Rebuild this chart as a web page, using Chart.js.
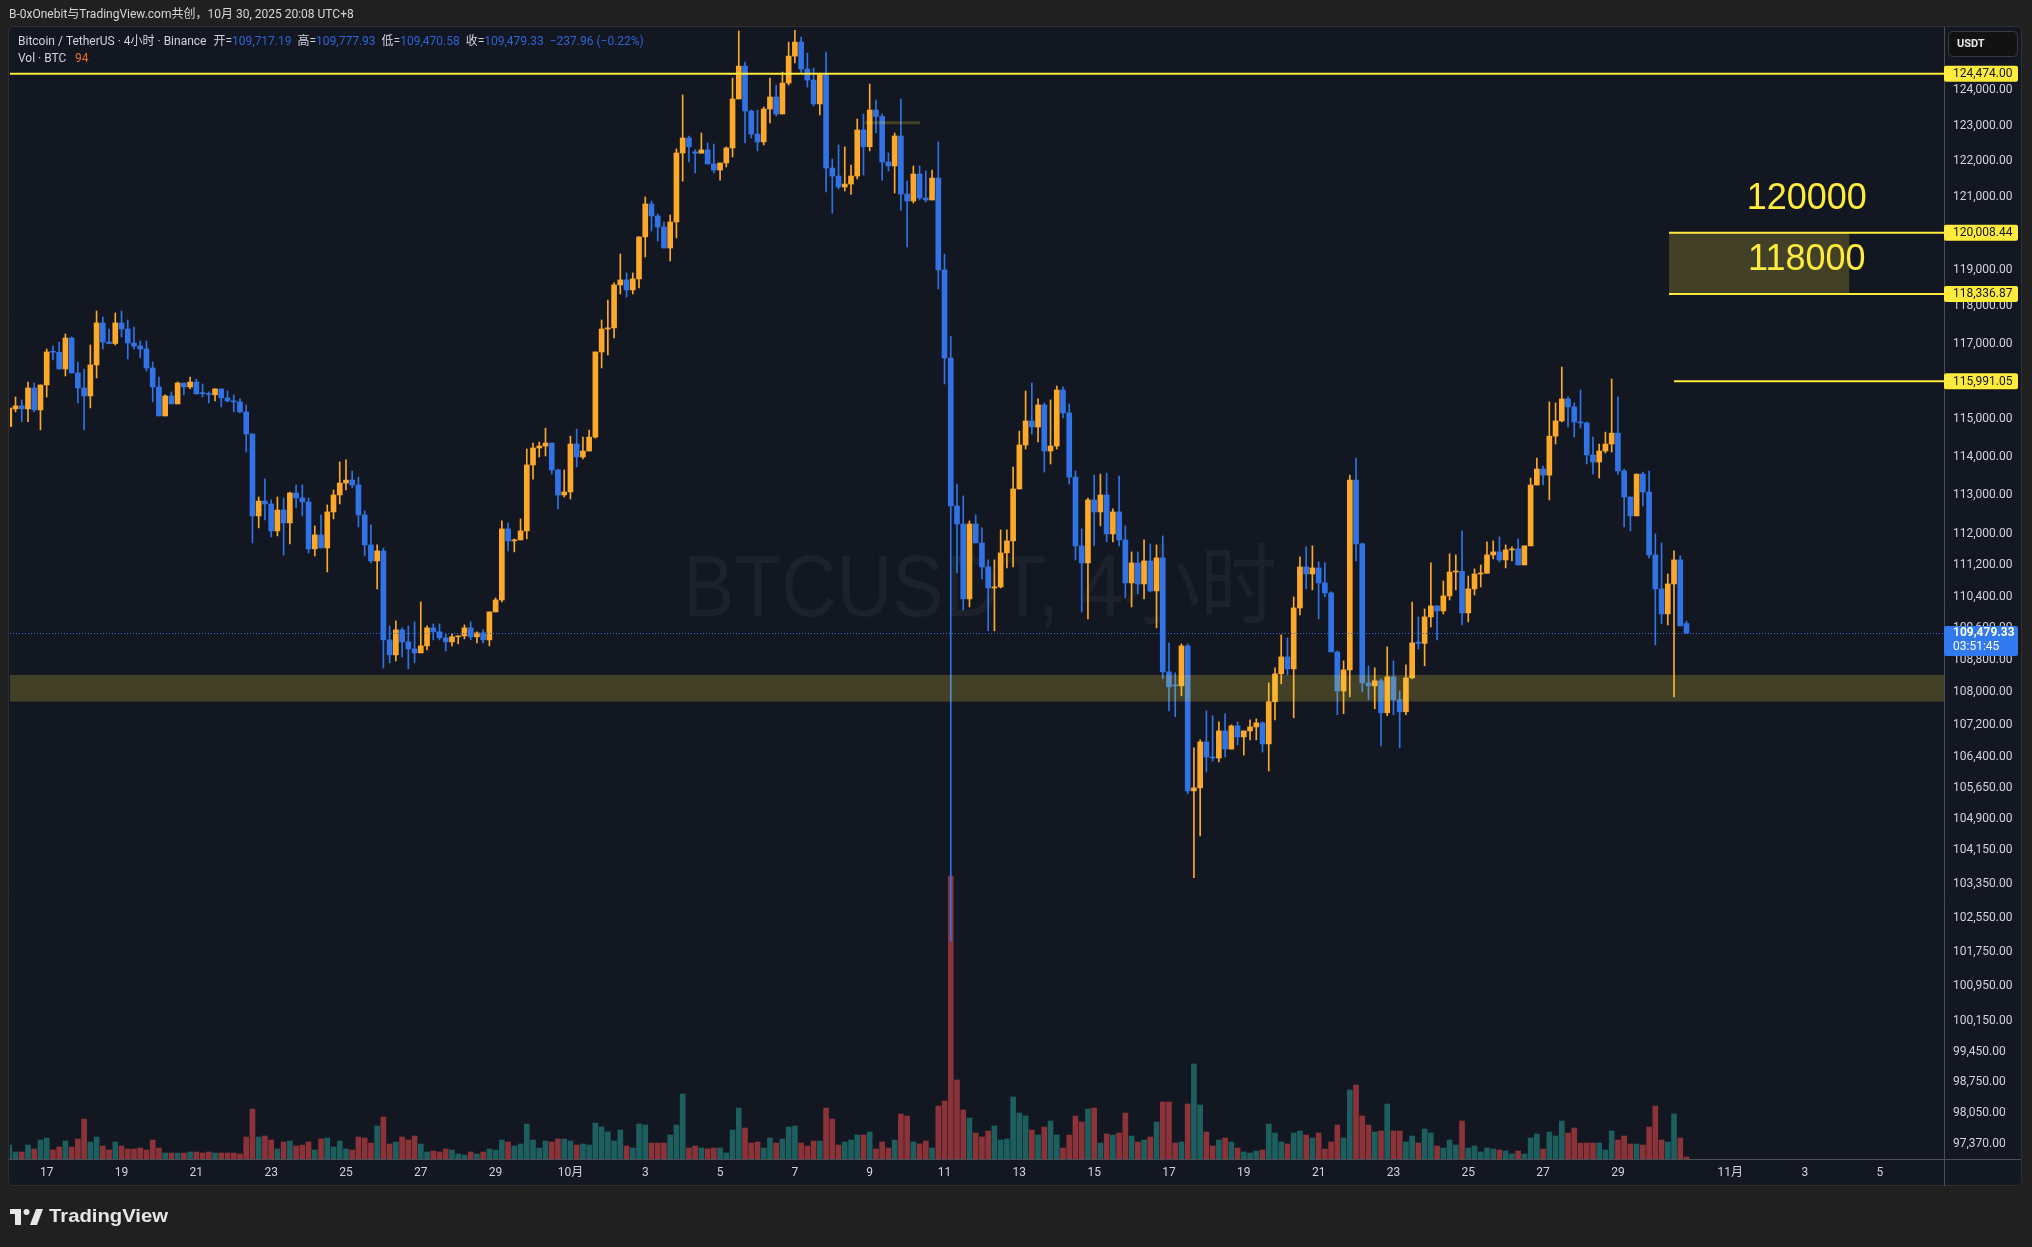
<!DOCTYPE html>
<html lang="zh">
<head>
<meta charset="utf-8">
<title>BTCUSDT 4小时</title>
<script src="https://cdn.jsdelivr.net/npm/chart.js"></script>
<style>
  html, body { margin: 0; padding: 0; background: #202020; overflow: hidden; }
  #myChart { display: block; }
</style>
</head>
<body>
<canvas id="myChart" width="2032" height="1247"></canvas>
<script>
// 4h bars, bar 0 = 9月17日 00:00 (UTC+8); first visible bar is 9月16日 00:00
var firstBar = -6;

var opens = [
  114793,115257,115336,115257,115812,115230,115892,116773,116765,116318,
  117147,116211,115812,115600,116425,117553,117040,117000,117553,117391,
  117013,116933,116853,116345,115839,115071,115600,115389,115944,115839,
  115971,115680,115660,115630,115786,115548,115468,115442,115177,114597,
  112461,112845,112770,112075,112613,112280,113054,112925,112822,111613,
  111972,111638,112564,113002,113312,113389,113262,112487,111715,111305,
  111562,109307,108930,109558,109256,109080,108980,109156,109608,109508,
  109357,109256,109382,109407,109608,109382,109482,109307,110010,110312,
  112126,111818,111844,112075,113784,114227,114279,114358,113653,113002,
  113080,114332,113992,114148,114513,116773,117391,117420,118583,118719,
  118447,118747,119897,120807,120475,120171,119593,120309,122230,122650,
  122260,122222,122315,121921,121753,121949,122371,123754,124690,123411,
  122760,122539,123468,123810,123328,124207,124977,125380,124606,124293,
  123612,124436,121807,121584,121278,121361,121584,122876,122404,123440,
  123256,121978,121865,122707,121083,120890,121640,120972,120918,121528,
  118992,116612,112717,112253,110339,112253,111766,111151,110618,110643,
  111510,111818,113159,114306,114939,114780,115362,114148,114279,115759,
  115151,113467,111690,111254,112874,112564,113002,111997,112564,111844,
  110744,111254,110719,111305,110542,111382,108507,108180,108159,109156,
  105584,105657,106776,106407,106383,107046,106602,107170,106899,107046,
  107145,107244,106727,107766,108458,108881,108582,110111,111151,110972,
  111126,110744,110491,109005,108032,108557,113389,111740,108234,108159,
  108284,107493,108383,107815,107518,108358,109250,109218,109884,110162,
  110035,110415,111023,111041,109985,110592,110972,110990,111459,111536,
  111331,111587,111613,111203,111690,113262,113679,113519,114539,114939,
  115521,115310,114913,114886,114044,113861,114148,114332,114618,113627,
  112951,112461,113546,113080,111459,110592,109960,110719,111331,109717.19
];
var highs = [
  115300,115574,115495,115971,115944,115892,116853,116930,117040,117256,
  117175,116505,116318,116960,117876,117714,117391,117822,117876,117633,
  117445,117067,117067,116505,116104,115627,115706,115971,115944,116104,
  116050,115918,115706,115786,115786,115733,115627,115521,115362,114597,
  112951,113420,112874,112951,112925,113080,113262,113262,112925,112203,
  112487,112745,113132,113864,113916,113624,113467,112590,112228,111715,
  111638,109658,109784,109608,109658,109759,110261,109658,109709,109709,
  109457,109457,109407,109683,109759,109508,109558,110010,110362,112332,
  112281,111869,112384,114201,114358,114384,114750,114358,113679,113653,
  114539,114724,114513,114697,116773,117633,118173,118638,119428,118910,
  118910,119897,121000,120890,120530,120309,120502,122343,123867,122706,
  122315,122791,122510,122482,121949,122399,124348,125699,124808,123440,
  123440,123525,124348,124150,124520,125380,125814,125524,125063,124636,
  124493,125092,122060,122455,122399,121893,123186,123328,124178,123724,
  123328,122230,122792,123754,121440,121865,121865,121726,121753,122539,
  119428,117195,113286,112977,112332,112487,112152,111331,111331,112100,
  112100,113731,114671,115731,115944,115521,115415,115495,115864,115839,
  115389,113624,112126,112925,113519,113546,113572,112642,113493,112203,
  111536,111536,111844,111740,111715,111946,109231,108483,109206,109206,
  106634,106825,107541,107420,107269,107469,107195,107269,107046,107318,
  107343,107269,108234,108607,109432,109357,110390,111407,111664,111690,
  111280,111254,110516,109030,108781,113519,113966,111766,108657,108607,
  108333,109131,108781,108035,108682,110261,109884,110086,111254,110162,
  110795,111484,111459,112075,110922,111100,111203,111792,111818,111920,
  111715,111664,111869,111690,113441,113966,113757,115442,115415,116369,
  115574,115415,115759,114913,114513,114332,114645,116050,115574,113679,
  112951,113546,113598,113624,111997,111766,110972,111562,111433,109777.93
];
var lows = [
  114750,115177,114921,114921,115177,114703,115574,116560,116318,116131,
  116211,115415,114703,115283,116078,116853,116990,116960,117175,116585,
  116853,116612,116265,115442,115071,115071,115389,115389,115627,115786,
  115654,115574,115415,115468,115310,115442,115177,115151,114124,111766,
  112152,112355,111920,111946,111459,111743,112667,112461,111510,111433,
  111638,111023,112384,112770,113132,113184,112177,111433,111254,110592,
  108603,108731,108781,108881,108582,108731,108980,109055,109307,109307,
  109030,109156,109206,109332,109307,109231,109231,109156,110010,110261,
  111562,111536,111844,111869,113416,113992,114018,113546,112642,112951,
  112900,113732,113940,114148,114487,116345,116692,117148,118338,118256,
  118338,118501,119346,120060,119786,119593,119237,119869,121440,121978,
  121670,122222,121921,121670,121468,121837,122118,123754,122515,122650,
  122287,122455,123073,123270,123328,124150,124780,124493,124094,123556,
  123299,121139,120550,121222,121167,121069,121500,121614,122287,122792,
  121467,121726,121111,120635,119621,120835,120918,120863,120918,118474,
  115918,102000,110998,110061,110137,111766,110846,109533,109533,110618,
  111126,111151,113159,114201,114597,114384,113600,113809,114201,115018,
  113286,111331,110010,109834,111690,112203,111792,111792,111690,110364,
  110137,110466,110339,110516,109608,108333,107541,107395,107912,105511,
  103500,104496,106044,106310,106286,106407,106602,106703,106456,106825,
  106825,106529,106068,107318,108209,108433,107370,109934,110592,110567,
  109834,110390,109005,107444,107469,107888,111305,108010,107815,107590,
  106678,107420,107444,106634,107444,108333,109080,108657,109633,109307,
  109960,110312,110567,109683,109759,110440,110643,110990,111356,111280,
  111126,111305,111203,111203,111690,113262,113262,112874,114332,114913,
  114780,114513,114753,113809,113546,113441,114096,114122,113546,112177,
  112075,112461,112719,111382,109181,109709,109683,107888,109658,109470.58
];
var closes = [
  115280,115336,115257,115812,115230,115892,116773,116765,116318,117147,
  116211,115812,115600,116425,117553,117040,117000,117553,117391,117013,
  116933,116853,116345,115839,115071,115600,115389,115944,115839,115971,
  115654,115660,115640,115786,115548,115468,115442,115177,114597,112461,
  112845,112770,112075,112613,112280,113054,112925,112822,111613,111972,
  111638,112564,113002,113312,113389,113262,112487,111715,111305,111562,
  109307,108930,109558,109256,109080,108980,109156,109608,109508,109357,
  109256,109382,109407,109608,109382,109482,109307,110010,110312,112126,
  111818,111844,112075,113784,114227,114279,114358,113653,113002,113080,
  114332,113992,114148,114513,116773,117391,117420,118583,118719,118447,
  118747,119897,120807,120475,120171,119593,120309,122230,122650,122404,
  122222,122315,121921,121753,121949,122371,123754,124690,123411,122760,
  122539,123468,123810,123328,124207,124977,125380,124606,124293,123612,
  124436,121807,121584,121278,121361,121584,122876,122404,123440,123256,
  121978,121865,122707,121083,120890,121640,120972,120918,121528,118992,
  116612,112717,112253,110339,112253,111766,111151,110618,110643,111510,
  111818,113159,114306,114939,114780,115362,114148,114279,115759,115151,
  113467,111690,111254,112874,112564,113002,111997,112564,111844,110744,
  111254,110719,111305,110542,111382,108507,108134,108159,109156,105584,
  105657,106776,106407,106383,107046,106602,107170,106899,107046,107145,
  107244,106727,107766,108458,108881,108582,110111,111151,110972,111126,
  110744,110491,109005,108032,108557,113389,111740,108234,108159,108284,
  107493,108383,107815,107518,108358,109231,109218,109884,110162,110035,
  110415,111023,111041,109985,110592,110972,110990,111459,111536,111331,
  111587,111613,111203,111690,113262,113679,113519,114539,114939,115521,
  115310,114913,114886,114044,113861,114148,114332,114618,113627,112951,
  112461,113546,113080,111459,110592,109960,110719,111331,109658,109479.33
];
// BTC
var volumes = [
  1400,700,700,1400,1000,1900,2100,900,1200,1800,
  1200,2000,4000,1700,2200,1300,900,1700,1300,1000,
  1000,1100,900,1900,1100,600,600,600,600,700,
  700,600,700,600,600,600,600,500,2200,5000,
  2200,2300,1900,1000,1700,1800,1300,1400,1700,900,
  2000,2100,1200,1800,1000,900,2200,2100,1600,3300,
  4200,1500,1700,2200,1900,2300,1500,700,800,700,
  1000,900,500,400,700,500,700,1000,900,1900,
  1700,1300,1500,3500,1900,1100,1800,1700,2000,2000,
  1800,1400,1500,1400,3600,3200,2700,1800,2900,1300,
  1100,3500,3400,1600,1600,1600,2400,3400,6500,1100,
  1300,1100,1000,1100,1100,600,2900,5100,3100,1600,
  1700,1100,2100,1600,2000,3200,3300,1600,1300,1800,
  1800,5100,4000,1400,1700,1900,2400,2400,2700,1000,
  1700,1100,1900,4500,4300,1700,1500,1800,1100,5300,
  5800,28300,7900,4900,4100,2600,2200,2800,3300,1900,
  2000,6200,4600,4300,2900,2400,3200,3800,2400,1100,
  2400,4300,3700,5000,5100,1600,2500,2400,2600,4600,
  2300,1700,1900,2200,3700,5700,5700,1600,1700,5500,
  9500,5400,2700,1300,1900,2100,1700,1100,700,600,
  800,900,3500,2600,1700,1500,2600,2800,2400,2100,
  2600,1000,1700,3400,2100,6900,7400,4300,3400,2700,
  2800,5500,2800,2800,1700,2300,1600,3000,2600,1300,
  1100,1900,1400,3800,1100,1300,700,1100,1000,900,
  800,500,800,500,2100,2500,1000,2700,2300,3800,
  2600,3100,1600,1600,1600,1600,900,2800,1900,2300,
  1500,1500,1400,3200,5300,1900,1700,4500,2100,94
];

var tickBars = [0,12,24,36,48,60,72,84,96,108,120,132,144,156,168,180,192,204,216,228,240,252,270,282,294];
var tickLabels = ['17','19','21','23','25','27','29','10月','3','5','7','9','11','13','15','17','19','21','23','25','27','29','11月','3','5'];
var priceTicks = [124000,123000,122000,121000,120000,119000,118000,117000,116000,115000,114000,113000,112000,
  111200,110400,109600,108800,108000,107200,106400,105650,104900,104150,103350,102550,101750,100950,100150,
  99450,98750,98050,97370];

var zone = [107770, 108430];
var topLine = 124474.00;
var box = [118336.87, 120008.44];
var boxLabels = ['120000', '118000'];
var rayLevel = 115991.05;
var markLevel = 123080;
var lastPrice = 109479.33;
var legend = {open: '109,717.19', high: '109,777.93', low: '109,470.58', close: '109,479.33', change: '−237.96 (−0.22%)', vol: '94'};

var UP = '#fca82b', DOWN = '#3173e5';
var VOL_UP = '#1d5f5f', VOL_DOWN = '#8b3338';
var YELLOW = '#ffeb3b';
var FONT = 'Roboto, "Noto Sans CJK SC", sans-serif';

var bodies = [], wicks = [], vols = [], candleColors = [], volColors = [];
for (var k = 0; k < closes.length; k++) {
  var x = firstBar + k;
  var up = closes[k] >= opens[k];
  bodies.push({x: x, y: [opens[k], closes[k]]});
  wicks.push({x: x, y: [lows[k], highs[k]]});
  vols.push({x: x, y: volumes[k]});
  candleColors.push(up ? UP : DOWN);
  volColors.push(up ? VOL_UP : VOL_DOWN);
}

function fmt(v) {
  var p = v.toFixed(2).split('.');
  return p[0].replace(/\B(?=(\d{3})+(?!\d))/g, ',') + '.' + p[1];
}

function hline(c, y, x0, x1) {
  c.beginPath();
  c.moveTo(x0, y);
  c.lineTo(x1, y);
  c.stroke();
}

function tag(c, y, text, bg, fg) {
  c.fillStyle = bg;
  c.beginPath();
  c.roundRect(1944, y - 8, 74, 16, 2);
  c.fill();
  c.fillStyle = fg;
  c.textAlign = 'left';
  c.textBaseline = 'middle';
  c.fillText(text, 1953, y + 0.5);
}

var tvDecor = {
  id: 'tvDecor',
  beforeDraw: function (chart) {
    var c = chart.ctx;
    c.save();
    c.fillStyle = '#202020';
    c.fillRect(0, 0, chart.width, chart.height);
    c.fillStyle = '#131722';
    c.strokeStyle = '#2f2f2f';
    c.beginPath();
    c.roundRect(8.5, 26.5, 2013, 1159, 5);
    c.fill();
    c.stroke();

    // watermark
    var wm = 'BTCUSDT, 4小时';
    c.font = '88px "Liberation Sans", "Noto Sans CJK SC", sans-serif';
    var w = c.measureText(wm).width;
    c.translate(980, 592);
    c.scale(594 / w, 1);
    c.fillStyle = 'rgba(255,255,255,0.045)';
    c.textAlign = 'center';
    c.textBaseline = 'middle';
    c.fillText(wm, 0, 0);
    c.restore();
  },
  afterDatasetsDraw: function (chart) {
    var c = chart.ctx, a = chart.chartArea, xs = chart.scales.x, ys = chart.scales.y;
    c.save();
    c.beginPath();
    c.rect(a.left, a.top, a.right - a.left, a.bottom - a.top);
    c.clip();

    c.fillStyle = 'rgba(255,235,59,0.2)';
    var z1 = ys.getPixelForValue(zone[1]), z0 = ys.getPixelForValue(zone[0]);
    c.fillRect(a.left, z1, a.right - a.left, z0 - z1);

    var mx0 = xs.getPixelForValue(131.2), mx1 = xs.getPixelForValue(140.1);
    c.fillRect(mx0, ys.getPixelForValue(markLevel) - 1.5, mx1 - mx0, 3);

    var bt = ys.getPixelForValue(box[1]), bb = ys.getPixelForValue(box[0]);
    var bx0 = xs.getPixelForValue(260.2), bx1 = xs.getPixelForValue(289.1);
    c.fillRect(bx0, bt, bx1 - bx0, bb - bt);

    c.strokeStyle = YELLOW;
    c.lineWidth = 2;
    hline(c, bt, bx0, a.right);
    hline(c, bb, bx0, a.right);
    hline(c, ys.getPixelForValue(rayLevel), xs.getPixelForValue(261), a.right);
    hline(c, ys.getPixelForValue(topLine), a.left, a.right);

    c.fillStyle = YELLOW;
    c.font = '36px "Liberation Sans", sans-serif';
    c.textAlign = 'center';
    c.textBaseline = 'middle';
    var tx = xs.getPixelForValue(282.3);
    c.fillText(boxLabels[0], tx, bt - 34);
    c.fillText(boxLabels[1], tx, (bt + bb) / 2 - 3);

    c.strokeStyle = '#2f6fe0';
    c.lineWidth = 1;
    c.setLineDash([1, 2]);
    hline(c, Math.round(ys.getPixelForValue(lastPrice)) + 0.5, a.left, a.right);
    c.restore();
  },
  afterDraw: function (chart) {
    var c = chart.ctx, ys = chart.scales.y;
    c.save();
    // pane borders
    c.strokeStyle = '#4b4e57';
    c.lineWidth = 1;
    c.beginPath();
    c.moveTo(1944.5, 27); c.lineTo(1944.5, 1186);
    c.moveTo(9, 1159.5); c.lineTo(2021, 1159.5);
    c.stroke();

    // price tags
    c.font = '12px ' + FONT;
    tag(c, ys.getPixelForValue(topLine), fmt(topLine), YELLOW, '#131722');
    tag(c, ys.getPixelForValue(box[1]), fmt(box[1]), YELLOW, '#131722');
    tag(c, ys.getPixelForValue(box[0]), fmt(box[0]), YELLOW, '#131722');
    tag(c, ys.getPixelForValue(rayLevel), fmt(rayLevel), YELLOW, '#131722');

    var py = ys.getPixelForValue(lastPrice);
    c.fillStyle = '#3179ee';
    c.beginPath();
    c.roundRect(1944, py - 7, 74, 30, 2);
    c.fill();
    c.fillStyle = '#ffffff';
    c.textAlign = 'left';
    c.textBaseline = 'middle';
    c.font = 'bold 12px ' + FONT;
    c.fillText(fmt(lastPrice), 1953, py + 0.5);
    c.font = '12px ' + FONT;
    c.fillText('03:51:45', 1953, py + 14);

    // currency box
    c.fillStyle = '#121212';
    c.strokeStyle = '#3a3a3a';
    c.beginPath();
    c.roundRect(1948.5, 31.5, 69, 25, 4);
    c.fill();
    c.stroke();
    c.fillStyle = '#e8e8e8';
    c.font = 'bold 11px ' + FONT;
    c.fillText('USDT', 1957, 44);

    // header line
    c.font = '12px ' + FONT;
    c.fillStyle = '#d6d6d6';
    c.fillText('B-0xOnebit与TradingView.com共创，10月 30, 2025 20:08 UTC+8', 9, 15);

    // legend
    var gray = '#d1d4dc', blue = '#2e64d6';
    var parts = [
      ['Bitcoin / TetherUS · 4小时 · Binance', gray, 7],
      ['开=', gray, 0], [legend.open, blue, 6],
      ['高=', gray, 0], [legend.high, blue, 6],
      ['低=', gray, 0], [legend.low, blue, 6],
      ['收=', gray, 0], [legend.close, blue, 6],
      [legend.change, blue, 0]
    ];
    var lx = 18;
    c.font = '12px ' + FONT;
    parts.forEach(function (p) {
      c.fillStyle = p[1];
      c.fillText(p[0], lx, 42);
      lx += c.measureText(p[0]).width + p[2];
    });
    c.fillStyle = gray;
    c.fillText('Vol · BTC', 18, 59);
    c.fillStyle = '#ef6c2f';
    c.fillText(legend.vol, 75, 59);

    // TradingView logo
    c.fillStyle = '#e6e6e6';
    c.fillRect(10, 1209, 11, 5);
    c.fillRect(15, 1209, 6, 16);
    c.beginPath();
    c.arc(26.5, 1212, 3, 0, Math.PI * 2);
    c.fill();
    c.beginPath();
    c.moveTo(30, 1225); c.lineTo(36, 1209); c.lineTo(43, 1209); c.lineTo(37, 1225);
    c.closePath();
    c.fill();
    c.font = 'bold 19px "Liberation Sans", sans-serif';
    var tw = c.measureText('TradingView').width;
    c.translate(49, 1217);
    c.scale(119 / tw, 1);
    c.fillText('TradingView', 0, 0);
    c.restore();
  }
};

let ctx = document.getElementById('myChart').getContext('2d');
let myChart = new Chart(ctx, {
  type: 'bar',
  data: {
    datasets: [
      {
        label: 'body',
        data: bodies,
        backgroundColor: candleColors,
        barThickness: 5,
        minBarLength: 1,
        grouped: false,
        order: 1,
        yAxisID: 'y'
      },
      {
        label: 'wick',
        data: wicks,
        backgroundColor: candleColors,
        barThickness: 1,
        grouped: false,
        order: 2,
        yAxisID: 'y'
      },
      {
        label: 'volume',
        data: vols,
        backgroundColor: volColors,
        barThickness: 5,
        minBarLength: 2,
        grouped: false,
        order: 3,
        yAxisID: 'yv'
      }
    ]
  },
  options: {
    responsive: false,
    animation: false,
    devicePixelRatio: 1,
    events: [],
    layout: { padding: { left: 10, top: 30, right: 0, bottom: 62 } },
    plugins: { legend: { display: false }, tooltip: { enabled: false } },
    scales: {
      x: {
        type: 'linear',
        min: -5.886,
        max: 304.3,
        offset: false,
        bounds: 'data',
        grid: { display: false, drawTicks: false },
        border: { display: false },
        afterBuildTicks: function (s) { s.ticks = tickBars.map(function (v) { return {value: v}; }); },
        afterFit: function (s) {
          s.height = 26;
          s.paddingLeft = 0; s.paddingRight = 0; s.paddingTop = 0; s.paddingBottom = 0;
        },
        ticks: {
          autoSkip: false,
          maxRotation: 0,
          padding: 7,
          color: '#d1d4dc',
          font: { family: FONT, size: 12 },
          callback: function (v, i) { return tickLabels[i]; }
        }
      },
      y: {
        type: 'logarithmic',
        position: 'right',
        min: 97030,
        max: 125728,
        bounds: 'data',
        grid: { display: false, drawTicks: false },
        border: { display: false },
        afterBuildTicks: function (s) { s.ticks = priceTicks.map(function (v) { return {value: v}; }); },
        afterFit: function (s) {
          s.width = 88;
          s.paddingLeft = 0; s.paddingRight = 0; s.paddingTop = 0; s.paddingBottom = 0;
        },
        ticks: {
          autoSkip: false,
          padding: 9,
          color: '#d1d4dc',
          font: { family: FONT, size: 12 },
          callback: function (v) { return fmt(v); }
        }
      },
      yv: {
        type: 'linear',
        display: false,
        min: 0,
        max: 112900
      }
    }
  },
  plugins: [tvDecor]
});
</script>
</body>
</html>
